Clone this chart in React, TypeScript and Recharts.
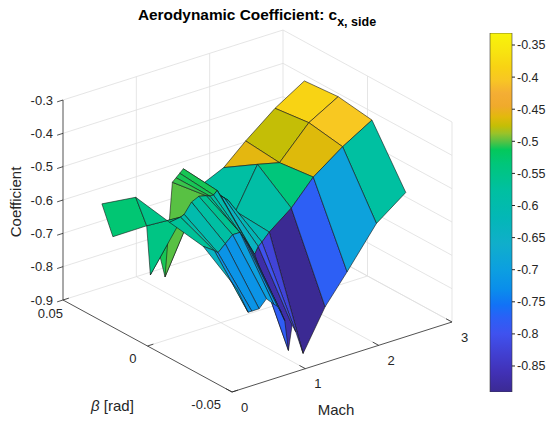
import React from "react";
import { ScatterChart, Scatter, XAxis, YAxis, BarChart, Bar } from "recharts";

// coefficient table: one row per Mach number, one column per sideslip angle (null = no data)
const machRows = [0.3, 0.45, 0.5, 0.6, 0.7, 0.8, 0.85, 0.9, 0.95, 1.0, 1.05, 1.1, 1.2, 1.5, 1.8, 2.2, 2.6];
const betaCols = [0.04, 0.02, 0, -0.02, -0.04];
const cxSide: (number | null)[][] = [
  [-0.605, -0.53, -0.55, -0.567, -0.64],
  [-0.714, -0.626, -0.545, -0.59, -0.72],
  [null, -0.777, -0.54, -0.6, -0.72],
  [null, -0.7, -0.51, -0.58, -0.72],
  [null, -0.797, -0.5, -0.56, -0.697],
  [null, -0.52, -0.505, -0.56, -0.72],
  [null, -0.51, -0.51, -0.58, -0.73],
  [null, -0.5, -0.51, -0.6, -0.75],
  [null, -0.49, -0.5, -0.62, -0.78],
  [null, -0.51, -0.52, -0.64, -0.873],
  [null, -0.52, -0.53, -0.62, -0.8],
  [null, -0.53, -0.54, -0.61, -0.824],
  [null, -0.555, -0.58, -0.587, -0.896],
  [null, -0.525, -0.46, -0.536, -0.777],
  [null, -0.466, -0.476, -0.464, -0.693],
  [null, -0.396, -0.384, -0.401, -0.576],
  [null, -0.342, -0.334, -0.349, -0.511],
];

const machTicks = [0, 1, 2, 3];
const betaTicks = [0.05, 0, -0.05];
const coeffTicks = [-0.9, -0.8, -0.7, -0.6, -0.5, -0.4, -0.3];
const colorTicks = [-0.85, -0.8, -0.75, -0.7, -0.65, -0.6, -0.55, -0.5, -0.45, -0.4, -0.35];
const colorLimits = [-0.8905, -0.3313];

const machLim = [0, 3];
const betaLim = [-0.05, 0.05];
const coeffLim = [-0.9, -0.3];

// parula-like map as it appears in the colorbar
const parulaStops: [number, string][] = [
  [-0.8905, "#3b2a93"],
  [-0.86, "#4131b6"],
  [-0.83, "#4140d2"],
  [-0.8, "#3f52ef"],
  [-0.775, "#2b60f6"],
  [-0.755, "#1272f6"],
  [-0.73, "#0a8eeb"],
  [-0.7, "#0c9fe0"],
  [-0.66, "#10aecb"],
  [-0.62, "#03b7b7"],
  [-0.575, "#00c0a0"],
  [-0.535, "#00c67a"],
  [-0.513, "#04c85b"],
  [-0.5, "#58c143"],
  [-0.488, "#98c22a"],
  [-0.476, "#c4be06"],
  [-0.462, "#e2b90c"],
  [-0.445, "#f0aa2c"],
  [-0.425, "#f4ae34"],
  [-0.405, "#f8c624"],
  [-0.385, "#f8d214"],
  [-0.36, "#f8e410"],
  [-0.3313, "#f8f40a"],
];

const FONT = "'Liberation Sans', Arial, Helvetica, sans-serif";
const INK = "#262626";

// where the axis box lands on the page (full span of each axis)
const camera = {
  origin: [63, 300], // Mach 0, beta 0.05, coefficient -0.9
  mach: [220, -70],
  beta: [169, 92],
  coeff: [0, -200],
};

const rowX = [camera.mach[0], camera.beta[0], camera.coeff[0]];
const rowY = [camera.mach[1], camera.beta[1], camera.coeff[1]];
let viewDir = [
  rowX[1] * rowY[2] - rowX[2] * rowY[1],
  rowX[2] * rowY[0] - rowX[0] * rowY[2],
  rowX[0] * rowY[1] - rowX[1] * rowY[0],
];
if (viewDir[2] < 0) viewDir = viewDir.map((v) => -v);

function project(m: number, b: number, c: number) {
  const tm = (m - machLim[0]) / (machLim[1] - machLim[0]);
  const tb = (betaLim[1] - b) / (betaLim[1] - betaLim[0]);
  const tc = (c - coeffLim[0]) / (coeffLim[1] - coeffLim[0]);
  return {
    x: camera.origin[0] + tm * camera.mach[0] + tb * camera.beta[0] + tc * camera.coeff[0],
    y: camera.origin[1] + tm * camera.mach[1] + tb * camera.beta[1] + tc * camera.coeff[1],
    depth: tm * viewDir[0] + tb * viewDir[1] + tc * viewDir[2],
  };
}

function hexToRgb(h: string) {
  return [1, 3, 5].map((k) => parseInt(h.slice(k, k + 2), 16));
}

function colorOf(v: number) {
  if (v <= parulaStops[0][0]) return parulaStops[0][1];
  for (let k = 1; k < parulaStops.length; k++) {
    const [v1, c1] = parulaStops[k];
    if (v <= v1) {
      const [v0, c0] = parulaStops[k - 1];
      const t = (v - v0) / (v1 - v0);
      const a = hexToRgb(c0);
      const b = hexToRgb(c1);
      return `rgb(${a.map((x, i) => Math.round(x + (b[i] - x) * t)).join(",")})`;
    }
  }
  return parulaStops[parulaStops.length - 1][1];
}

// surface faces, flat coloured by the (lower Mach, lower beta) corner, painted back to front
const faces: { fill: string; depth: number; pts: { x: number; y: number }[] }[] = [];
for (let i = 0; i < machRows.length - 1; i++) {
  for (let j = 0; j < betaCols.length - 1; j++) {
    const idx = [[i, j], [i, j + 1], [i + 1, j + 1], [i + 1, j]];
    const vals = idx.map(([r, c]) => cxSide[r][c]);
    if (vals.some((v) => v === null)) continue;
    const pts = idx.map(([r, c], k) => project(machRows[r], betaCols[c], vals[k] as number));
    const lowBeta = betaCols[j] < betaCols[j + 1] ? j : j + 1;
    faces.push({
      fill: colorOf(cxSide[i][lowBeta] as number),
      depth: pts.reduce((s, p) => s + p.depth, 0) / 4,
      pts: pts.map((p) => ({ x: p.x, y: p.y })),
    });
  }
}
faces.sort((a, b) => a.depth - b.depth);
const faceCorners = faces.flatMap((f) => f.pts);

const seg = (a: number[], b: number[]) => {
  const p = project(a[0], a[1], a[2]);
  const q = project(b[0], b[1], b[2]);
  return [{ x: p.x, y: p.y }, { x: q.x, y: q.y }];
};

const [m0, m1] = machLim;
const [b0, b1] = betaLim;
const [c0, c1] = coeffLim;

const gridSegs = [
  ...coeffTicks.flatMap((c) => seg([m0, b1, c], [m1, b1, c])),
  ...coeffTicks.flatMap((c) => seg([m1, b1, c], [m1, b0, c])),
  ...machTicks.filter((m) => m > m0).flatMap((m) => seg([m, b1, c0], [m, b1, c1])),
  ...betaTicks.filter((b) => b < b1).flatMap((b) => seg([m1, b, c0], [m1, b, c1])),
  ...machTicks.filter((m) => m > m0).flatMap((m) => seg([m, b1, c0], [m, b0, c0])),
  ...betaTicks.filter((b) => b < b1 && b > b0).flatMap((b) => seg([m0, b, c0], [m1, b, c0])),
];

const axisSegs = [
  ...seg([m0, b1, c0], [m0, b1, c1]),
  ...seg([m0, b1, c0], [m0, b0, c0]),
  ...seg([m0, b0, c0], [m1, b0, c0]),
  ...coeffTicks.flatMap((c) => seg([m0, b1, c], [m0 - 0.08, b1, c])),
  ...betaTicks.flatMap((b) => seg([m0, b, c0], [m0 + 0.08, b, c0])),
  ...machTicks.flatMap((m) => seg([m, b0, c0], [m, b0 + 0.0035, c0])),
];

type Label = {
  x: number;
  y: number;
  text: string;
  anchor?: string;
  size?: number;
  kind?: string;
};

const at = (m: number, b: number, c: number, dx: number, dy: number) => {
  const p = project(m, b, c);
  return { x: p.x + dx, y: p.y + dy };
};

const labels: Label[] = [
  ...coeffTicks.map((c) => ({ ...at(m0, b1, c, -10, 0), text: String(c), anchor: "end" })),
  ...betaTicks.map((b) => ({
    ...at(m0, b, c0, b === b1 ? 0 : -11, b === b1 ? 13.5 : 12.5),
    text: String(b),
    anchor: "end",
  })),
  ...machTicks.map((m) => ({ ...at(m, b0, c0, 12.5, 15), text: String(m), anchor: "middle" })),
  { ...at(m0, b1, (c0 + c1) / 2, -48, 2), text: "Coefficient", kind: "ylabel", size: 15 },
  { ...at(m0, (b0 + b1) / 2, c0, -35, 59), text: "[rad]", kind: "beta", size: 15 },
  { ...at((m0 + m1) / 2, b0, c0, -6, 52), text: "Mach", anchor: "middle", size: 15 },
  { x: 257, y: 20, text: "Aerodynamic Coefficient: c", kind: "title" },
];

const drawFaces = (p: any) => {
  const pts = p.points || [];
  return (
    <g>
      {faces.map((f, k) => {
        const q = pts.slice(k * 4, k * 4 + 4);
        if (q.length < 4) return null;
        const d = q.map((r: any, n: number) => `${n ? "L" : "M"}${r.x},${r.y}`).join(" ") + " Z";
        return <path key={k} d={d} fill={f.fill} stroke="#161616" strokeWidth={0.6} strokeLinejoin="round" />;
      })}
    </g>
  );
};

const drawSegments = (stroke: string, width: number) => (p: any) => {
  const pts = p.points || [];
  let d = "";
  for (let k = 0; k + 1 < pts.length; k += 2) {
    d += `M${pts[k].x},${pts[k].y}L${pts[k + 1].x},${pts[k + 1].y}`;
  }
  return <path d={d} stroke={stroke} strokeWidth={width} fill="none" />;
};

const noMark = () => <g />;

const drawLabel = (p: any) => {
  const l: Label = p.payload;
  const { cx, cy } = p;
  if (l.kind === "title") {
    return (
      <text x={cx} y={cy} textAnchor="middle" fontFamily={FONT} fontWeight="bold" fontSize={15.4} fill="#000">
        {l.text}
        <tspan fontSize={12.5} dy={6}>x, side</tspan>
      </text>
    );
  }
  if (l.kind === "ylabel") {
    return (
      <text x={cx} y={cy} transform={`rotate(-90 ${cx} ${cy})`} textAnchor="middle" dominantBaseline="central"
        fontFamily={FONT} fontSize={l.size} fill={INK}>
        {l.text}
      </text>
    );
  }
  if (l.kind === "beta") {
    return (
      <text x={cx} y={cy} textAnchor="middle" dominantBaseline="central" fontFamily={FONT} fontSize={l.size} fill={INK}>
        <tspan fontStyle="italic">β</tspan> {l.text}
      </text>
    );
  }
  return (
    <text x={cx} y={cy} textAnchor={l.anchor || "middle"} dominantBaseline="central" fontFamily={FONT}
      fontSize={l.size || 13} fill={INK}>
      {l.text}
    </text>
  );
};

const colorbarData = [{ name: "cx", span: colorLimits }];
const [cbLow, cbHigh] = colorLimits;

const App: React.FC = () => (
  <div style={{ position: "absolute", left: 0, top: 0, width: 550, height: 422, background: "#fff" }}>
    <div style={{ position: "absolute", left: 0, top: 0 }}>
      <ScatterChart width={550} height={422} margin={{ top: 0, right: 0, bottom: 0, left: 0 }}>
        <XAxis type="number" dataKey="x" domain={[0, 550]} allowDataOverflow hide />
        <YAxis type="number" dataKey="y" domain={[0, 422]} allowDataOverflow reversed hide />
        <Scatter data={gridSegs} line={drawSegments("#dedede", 0.8)} shape={noMark} isAnimationActive={false} />
        <Scatter data={axisSegs} line={drawSegments(INK, 0.8)} shape={noMark} isAnimationActive={false} />
        <Scatter data={faceCorners} line={drawFaces} shape={noMark} isAnimationActive={false} />
        <Scatter data={labels} shape={drawLabel} isAnimationActive={false} />
      </ScatterChart>
    </div>
    <div style={{ position: "absolute", left: 470, top: 0 }}>
      <BarChart width={80} height={422} data={colorbarData} margin={{ top: 33, right: 0, bottom: 30, left: 20 }}
        barCategoryGap={0}>
        <defs>
          <linearGradient id="cbGrad" x1="0" y1="0" x2="0" y2="1">
            {parulaStops
              .slice()
              .reverse()
              .map(([v, c]) => (
                <stop key={v} offset={`${((cbHigh - v) / (cbHigh - cbLow)) * 100}%`} stopColor={c} />
              ))}
          </linearGradient>
        </defs>
        <XAxis dataKey="name" hide />
        <YAxis orientation="right" type="number" domain={colorLimits} ticks={colorTicks} allowDataOverflow
          width={38} axisLine={false} tickSize={3} tickLine={{ stroke: INK }}
          tick={{ fontSize: 12.5, fontFamily: FONT, fill: INK, textAnchor: "start" }}
          tickFormatter={(v: number) => String(v)} />
        <Bar dataKey="span" fill="url(#cbGrad)" stroke="#3a3a3a" strokeWidth={0.6} isAnimationActive={false} />
      </BarChart>
    </div>
  </div>
);

export default App;
